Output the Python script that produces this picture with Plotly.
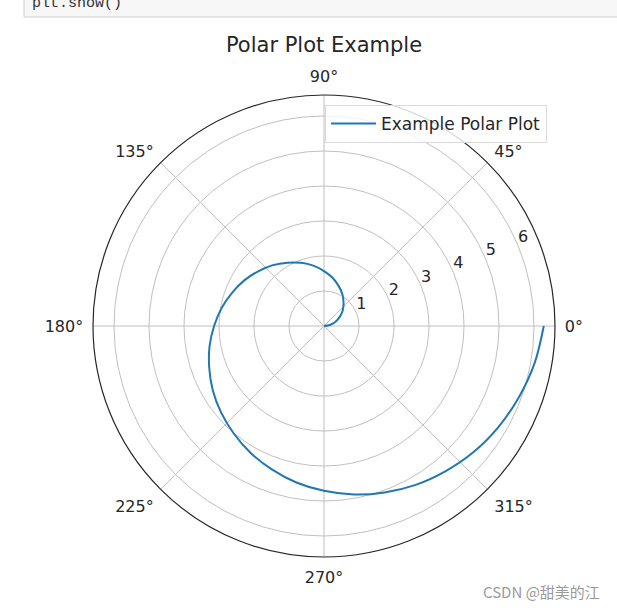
import plotly.graph_objects as go

# spiral: angle in degrees, radius
theta_deg = [0, 10, 20, 30, 40, 50, 60, 70, 80, 90, 100, 110, 120, 130, 140, 150, 160, 170, 180,
             190, 200, 210, 220, 230, 240, 250, 260, 270, 280, 290, 300, 310, 320, 330, 340, 350, 360]
r_vals = [0.0, 0.17, 0.35, 0.52, 0.70, 0.87, 1.05, 1.22, 1.40, 1.57, 1.75, 1.92, 2.09, 2.27, 2.44,
          2.62, 2.79, 2.97, 3.14, 3.32, 3.49, 3.67, 3.84, 4.01, 4.19, 4.36, 4.54, 4.71, 4.89, 5.06,
          5.24, 5.41, 5.59, 5.76, 5.93, 6.11, 6.28]
radial_ticks = [1, 2, 3, 4, 5, 6]
series_name = 'Example Polar Plot'
title_text = 'Polar Plot Example'

W, H = 617, 610
RLABEL_ANGLE = 22.5  # like matplotlib's default rlabel position

fig = go.Figure()
fig.add_trace(go.Scatterpolar(
    r=r_vals,
    theta=theta_deg,
    mode='lines',
    line=dict(color='#1f77b4', width=2, shape='spline'),
    name=series_name,
    showlegend=True,
))
# radial tick labels, sitting up-right of each ring on the 22.5 deg ray
fig.add_trace(go.Scatterpolar(
    r=radial_ticks,
    theta=[RLABEL_ANGLE] * len(radial_ticks),
    mode='text',
    text=[str(t) for t in radial_ticks],
    textposition='top right',
    textfont=dict(family='DejaVu Sans', size=16, color='#262626'),
    showlegend=False,
    hoverinfo='skip',
))

# polar area: centre (324, 326), radius 231 px
cx, cy, rad = 324, 326, 231
fig.update_layout(
    width=W, height=H,
    margin=dict(l=0, r=0, t=0, b=0),
    paper_bgcolor='white',
    font=dict(family='DejaVu Sans', color='#262626'),
    showlegend=True,
    title=dict(text=title_text, x=324 / W, xanchor='center',
               y=1 - 45 / H, yanchor='middle', font=dict(size=21, color='#262626')),
    polar=dict(
        domain=dict(x=[(cx - rad) / W, (cx + rad) / W], y=[1 - (cy + rad) / H, 1 - (cy - rad) / H]),
        bgcolor='white',
        radialaxis=dict(
            range=[0, 6.6], tickvals=radial_ticks, angle=RLABEL_ANGLE,
            showticklabels=False, showline=False, ticks='',
            gridcolor='#c0c0c0', gridwidth=1,
        ),
        angularaxis=dict(
            direction='counterclockwise', rotation=0, dtick=45, ticksuffix='°',
            showline=True, linecolor='#262626', linewidth=1.2,
            gridcolor='#c0c0c0', gridwidth=1,
            ticks='outside', ticklen=6, tickcolor='rgba(0,0,0,0)',
            tickfont=dict(size=16, color='#262626'),
        ),
    ),
    legend=dict(
        x=547 / W, xanchor='right', y=1 - 105 / H, yanchor='top',
        bgcolor='rgba(255,255,255,0.8)', bordercolor='#d9d9d9', borderwidth=1,
        itemwidth=45,
        font=dict(size=17, color='#262626'),
    ),
)

# notebook code cell strip at the top
fig.add_shape(type='rect', xref='paper', yref='paper',
              x0=24 / W, x1=1.02, y0=1 - 17 / H, y1=1.02,
              fillcolor='#f7f7f7', line=dict(color='#cfcfcf', width=1))
fig.add_annotation(text='plt.show()', xref='paper', yref='paper',
                   x=30 / W, y=1 - 3 / H, xanchor='left', yanchor='middle',
                   showarrow=False, font=dict(family='Liberation Mono', size=15, color='#333333'))

# watermark
fig.add_annotation(text='CSDN @甜美的江', xref='paper', yref='paper',
                   x=602 / W, y=1 - 591 / H, xanchor='right', yanchor='middle',
                   showarrow=False, font=dict(family='Noto Sans CJK SC', size=15, color='#9a9a9a'))

fig.write_html("out.html", config={'displayModeBar': False},
               post_script="document.body.style.margin='0';")
